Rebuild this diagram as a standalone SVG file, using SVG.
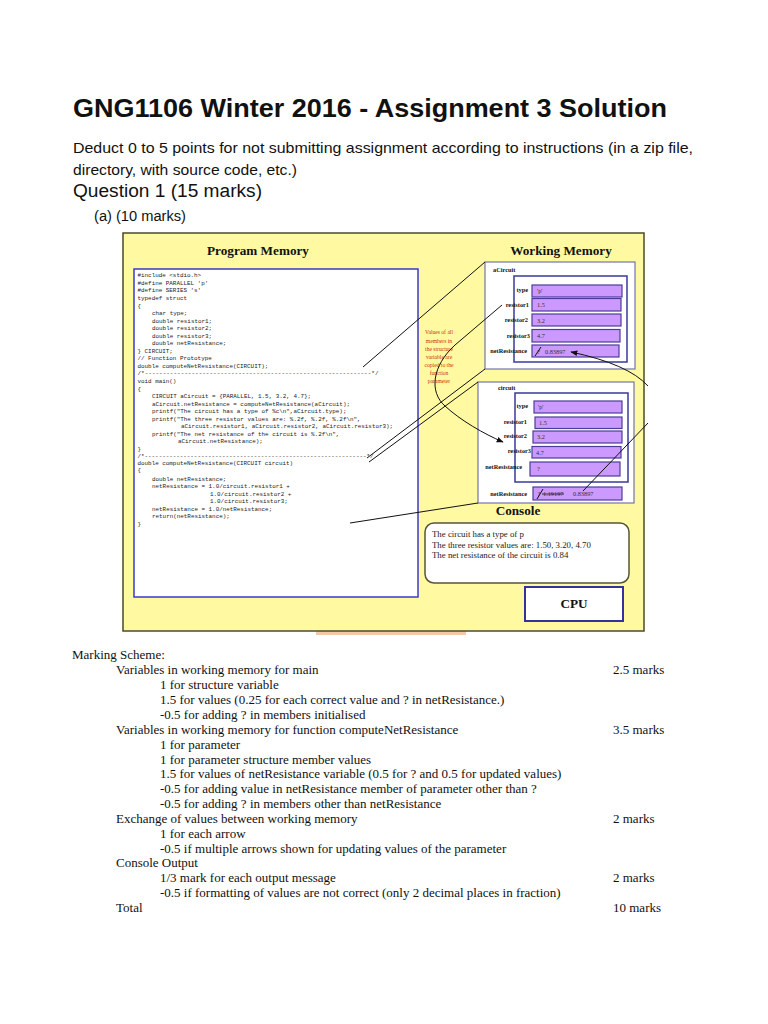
<svg xmlns="http://www.w3.org/2000/svg" width="768" height="1024" viewBox="0 0 768 1024">
<defs>
<marker id="ah" viewBox="0 0 10 10" refX="9" refY="5" markerWidth="7" markerHeight="7" orient="auto" markerUnits="userSpaceOnUse">
<path d="M0,1 L10,5 L0,9 z" fill="#111"/>
</marker>
</defs>
<style>
.hd{font-family:"Liberation Sans",Arial,sans-serif;fill:#111}
.ms{font-family:"Liberation Serif","Times New Roman",serif;font-size:13px;fill:#111}
.code{font-family:"Liberation Mono","Courier New",monospace;font-size:5.9px;fill:#222}
.ttl{font-family:"Liberation Serif","Times New Roman",serif;font-weight:bold;font-size:13.2px;fill:#111;text-anchor:middle}
.lbl{font-family:"Liberation Serif","Times New Roman",serif;font-weight:bold;font-size:6.3px;fill:#111;text-anchor:end}
.nm{font-family:"Liberation Serif","Times New Roman",serif;font-weight:bold;font-size:6.3px;fill:#111}
.val{font-family:"Liberation Serif","Times New Roman",serif;font-size:6.3px;fill:#333}
.red{font-family:"Liberation Serif","Times New Roman",serif;font-size:5.6px;fill:#C8300A;text-anchor:middle}
.con{font-family:"Liberation Serif","Times New Roman",serif;font-size:8.8px;fill:#222}
.outer{fill:#fff;stroke:#7474A8;stroke-width:1.2}
.inner{fill:#fff;stroke:#3A3A9A;stroke-width:1.5}
.cell{fill:#CC99FF;stroke:#4B3C9A;stroke-width:1.2}
.ln{fill:none;stroke:#111;stroke-width:1}
</style>
<rect width="768" height="1024" fill="#fff"/>

<g id="header">
<text class="hd" x="73" y="117" font-size="26" font-weight="bold" textLength="594" lengthAdjust="spacingAndGlyphs">GNG1106 Winter 2016 - Assignment 3 Solution</text>
<text class="hd" x="73" y="153" font-size="15" textLength="620" lengthAdjust="spacingAndGlyphs">Deduct 0 to 5 points for not submitting assignment according to instructions (in a zip file,</text>
<text class="hd" x="73" y="175" font-size="15" textLength="224" lengthAdjust="spacingAndGlyphs">directory, with source code, etc.)</text>
<text class="hd" x="73" y="197" font-size="18" textLength="189" lengthAdjust="spacingAndGlyphs">Question 1 (15 marks)</text>
<text class="hd" x="94" y="221" font-size="14" textLength="92" lengthAdjust="spacingAndGlyphs">(a) (10 marks)</text>
</g>

<g id="slide">
<rect x="316" y="631" width="150" height="4" fill="#E89A6A" opacity="0.55"/>
<rect x="123" y="233" width="521" height="398" fill="#FFFAA2" stroke="#4A4A30" stroke-width="1.5"/>
</g>

<g id="program-memory">
<text class="ttl" x="258" y="255">Program Memory</text>
<rect x="134" y="269" width="284" height="328" fill="#fff" stroke="#3A3ACC" stroke-width="1.5"/>
<text class="code" x="137.5" y="277">#include &lt;stdio.h&gt;</text>
<text class="code" x="137.5" y="284.7">#define PARALLEL 'p'</text>
<text class="code" x="137.5" y="292.3">#define SERIES 's'</text>
<text class="code" x="137.5" y="300">typedef struct</text>
<text class="code" x="137.5" y="307.5">{</text>
<text class="code" x="152" y="315">char type;</text>
<text class="code" x="152" y="322.5">double resistor1;</text>
<text class="code" x="152" y="330">double resistor2;</text>
<text class="code" x="152" y="337.5">double resistor3;</text>
<text class="code" x="152" y="345">double netResistance;</text>
<text class="code" x="137.5" y="352.5">} CIRCUIT;</text>
<text class="code" x="137.5" y="360">// Function Prototype</text>
<text class="code" x="137.5" y="367.7">double computeNetResistance(CIRCUIT);</text>
<text class="code" x="137.5" y="375.3" textLength="241" lengthAdjust="spacingAndGlyphs">/*---------------------------------------------------------------*/</text>
<text class="code" x="137.5" y="383">void main()</text>
<text class="code" x="137.5" y="390.5">{</text>
<text class="code" x="152" y="398">CIRCUIT aCircuit = {PARALLEL, 1.5, 3.2, 4.7};</text>
<text class="code" x="152" y="405.5">aCircuit.netResistance = computeNetResistance(aCircuit);</text>
<text class="code" x="152" y="413">printf("The circuit has a type of %c\n",aCircuit.type);</text>
<text class="code" x="152" y="420.5">printf("The three resistor values are: %.2f, %.2f, %.2f\n",</text>
<text class="code" x="181" y="428">aCircuit.resistor1, aCircuit.resistor2, aCircuit.resistor3);</text>
<text class="code" x="152" y="435.5">printf("The net resistance of the circuit is %.2f\n",</text>
<text class="code" x="178" y="443">aCircuit.netResistance);</text>
<text class="code" x="137.5" y="450.7">}</text>
<text class="code" x="137.5" y="458" textLength="236" lengthAdjust="spacingAndGlyphs">/*---------------------------------------------------------------*/</text>
<text class="code" x="137.5" y="465">double computeNetResistance(CIRCUIT circuit)</text>
<text class="code" x="137.5" y="472">{</text>
<text class="code" x="152" y="481">double netResistance;</text>
<text class="code" x="152" y="488">netResistance = 1.0/circuit.resistor1 +</text>
<text class="code" x="210" y="495.5">1.0/circuit.resistor2 +</text>
<text class="code" x="210" y="503">1.0/circuit.resistor3;</text>
<text class="code" x="152" y="510.5">netResistance = 1.0/netResistance;</text>
<text class="code" x="152" y="518">return(netResistance);</text>
<text class="code" x="137.5" y="525.5">}</text>
</g>

<g id="note">
<text class="red" x="439" y="334">Values of all</text>
<text class="red" x="439" y="342.5">members in</text>
<text class="red" x="439" y="351">the structure</text>
<text class="red" x="439" y="359">variable are</text>
<text class="red" x="439" y="367">copied to the</text>
<text class="red" x="439" y="375">function</text>
<text class="red" x="439" y="383">parameter</text>
</g>

<g id="working-memory">
<text class="ttl" x="561" y="255">Working Memory</text>
</g>

<g id="aCircuit">
<rect class="outer" x="485" y="262" width="150" height="107"/>
<text class="nm" x="493" y="272">aCircuit</text>
<rect class="inner" x="514" y="276" width="113" height="86"/>
<rect class="cell" x="532" y="285" width="90" height="12"/>
<rect class="cell" x="532" y="298.5" width="89" height="12.5"/>
<rect class="cell" x="532" y="314" width="89" height="12"/>
<rect class="cell" x="532" y="329.5" width="88" height="12.5"/>
<rect class="cell" x="532" y="345" width="87" height="12"/>
<text class="lbl" x="528" y="292">type</text>
<text class="lbl" x="529" y="306.5">resistor1</text>
<text class="lbl" x="528" y="321.5">resistor2</text>
<text class="lbl" x="530" y="337.5">resistor3</text>
<text class="lbl" x="527" y="353">netResistance</text>
<text class="val" x="537" y="293">'p'</text>
<text class="val" x="537" y="307">1.5</text>
<text class="val" x="537" y="322.5">3.2</text>
<text class="val" x="537" y="338">4.7</text>
<text class="val" x="537" y="353.5">?</text>
<line x1="535" y1="356" x2="541" y2="347" stroke="#111" stroke-width="1"/>
<text class="val" x="545" y="353.5">0.83897</text>
</g>

<g id="circuit">
<rect class="outer" x="478" y="382" width="156" height="121"/>
<text class="nm" x="498" y="390">circuit</text>
<rect class="inner" x="515" y="393" width="113" height="89"/>
<rect class="cell" x="534" y="401" width="88" height="12"/>
<rect class="cell" x="535" y="417" width="87" height="11.5"/>
<rect class="cell" x="533" y="431" width="89" height="12"/>
<rect class="cell" x="532" y="446.5" width="89" height="11.5"/>
<rect class="cell" x="530" y="462" width="90" height="14"/>
<rect class="cell" x="533" y="487" width="89" height="13"/>
<text class="lbl" x="528" y="408">type</text>
<text class="lbl" x="527" y="423.5">resistor1</text>
<text class="lbl" x="527" y="437.5">resistor2</text>
<text class="lbl" x="531" y="453">resistor3</text>
<text class="lbl" x="522" y="469">netResistance</text>
<text class="lbl" x="527" y="495.5">netResistance</text>
<text class="val" x="538" y="409">'p'</text>
<text class="val" x="539" y="424.5">1.5</text>
<text class="val" x="537" y="439">3.2</text>
<text class="val" x="536" y="454.5">4.7</text>
<text class="val" x="537" y="471">?</text>
<text class="val" x="537.5" y="496">?</text>
<line x1="537" y1="499" x2="543" y2="489" stroke="#111" stroke-width="1"/>
<text class="val" x="543" y="496">1.19197</text>
<line x1="542" y1="494" x2="564" y2="494" stroke="#111" stroke-width="0.8"/>
<text class="val" x="573" y="496">0.83897</text>
</g>

<g id="console">
<text class="ttl" x="518" y="515" font-size="13.4">Console</text>
<rect x="425" y="523" width="204" height="60" rx="9" fill="#fff" stroke="#55553A" stroke-width="1.5"/>
<text class="con" x="432" y="537">The circuit has a type of p</text>
<text class="con" x="432" y="547.5">The three resistor values are: 1.50, 3.20, 4.70</text>
<text class="con" x="432" y="558">The net resistance of the circuit is 0.84</text>
</g>

<g id="cpu">
<rect x="525" y="587" width="98" height="34" fill="#fff" stroke="#333399" stroke-width="2"/>
<text class="ttl" x="574" y="608">CPU</text>
</g>

<g id="connectors">
<line class="ln" x1="363" y1="367" x2="485" y2="262"/>
<line class="ln" x1="367" y1="458" x2="485" y2="369"/>
<line class="ln" x1="369" y1="462" x2="478" y2="382"/>
<line class="ln" x1="350" y1="523" x2="478" y2="503"/>
<path class="ln" d="M502,305 L455,345 C432,366 429,392 445,406 C460,420 484,434 503,442" marker-end="url(#ah)"/>
<path class="ln" d="M648,386 Q628,364 571,352" marker-end="url(#ah)"/>
<line class="ln" x1="583" y1="491" x2="648" y2="423"/>
</g>

<g id="marking-scheme">
<text class="ms" x="72" y="659">Marking Scheme:</text>
<text class="ms" x="116" y="674">Variables in working memory for main</text>
<text class="ms" x="613" y="674">2.5 marks</text>
<text class="ms" x="160" y="689">1 for structure variable</text>
<text class="ms" x="160" y="704">1.5 for values (0.25 for each correct value and ? in netResistance.)</text>
<text class="ms" x="160" y="719">-0.5 for adding ? in members initialised</text>
<text class="ms" x="116" y="734">Variables in working memory for function computeNetResistance</text>
<text class="ms" x="613" y="734">3.5 marks</text>
<text class="ms" x="160" y="749">1 for parameter</text>
<text class="ms" x="160" y="764">1 for parameter structure member values</text>
<text class="ms" x="160" y="778">1.5 for values of netResistance variable (0.5 for ? and 0.5 for updated values)</text>
<text class="ms" x="160" y="793">-0.5 for adding value in netResistance member of parameter other than ?</text>
<text class="ms" x="160" y="808">-0.5 for adding ? in members other than netResistance</text>
<text class="ms" x="116" y="823">Exchange of values between working memory</text>
<text class="ms" x="613" y="823">2 marks</text>
<text class="ms" x="160" y="838">1 for each arrow</text>
<text class="ms" x="160" y="853">-0.5 if multiple arrows shown for updating values of the parameter</text>
<text class="ms" x="116" y="867">Console Output</text>
<text class="ms" x="160" y="882">1/3 mark for each output message</text>
<text class="ms" x="613" y="882">2 marks</text>
<text class="ms" x="160" y="897">-0.5 if formatting of values are not correct (only 2 decimal places in fraction)</text>
<text class="ms" x="116" y="912">Total</text>
<text class="ms" x="613" y="912">10 marks</text>
</g>
</svg>
